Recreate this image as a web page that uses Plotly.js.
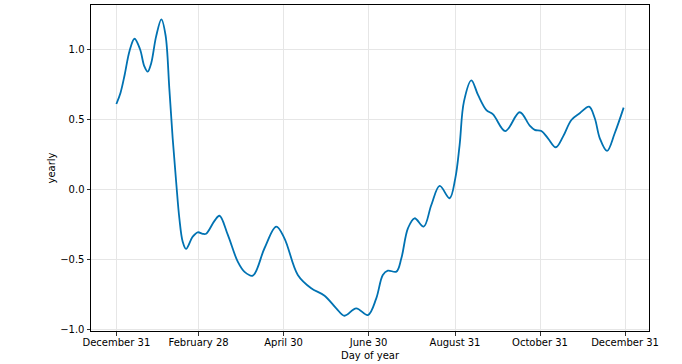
<!DOCTYPE html>
<html>
<head>
<meta charset="utf-8">
<script src="https://cdn.plot.ly/plotly-3.0.1.min.js"></script>
<style>html,body{margin:0;padding:0;background:#fff;}</style>
</head>
<body>
<div id="chart" style="width:682px;height:364px;"></div>
<script>
// Day of year (0 = Jan 1) and yearly seasonality values
const days = [0, 3, 6, 9.5, 13, 17, 20, 22.5, 25, 28.5, 32.3, 35.3, 38, 40.4, 42.9, 45.2, 47.6, 50, 54.8, 58.4, 62, 64.4, 70.4, 74,
  80, 87.1, 92, 97.9, 106.3, 114.7, 120.6, 130.2, 139.8, 149.4, 157.8, 163.7, 172.1, 180.5, 186.5, 191.2, 194.8, 200.9,
  204.5, 209.2, 214, 220.5, 226, 232, 239.1, 243.2, 246.3, 249.4, 254.7, 259.5, 265.5, 270.3, 279.1, 289.4, 296.6,
  300.2, 305, 309.7, 315.3, 320.5, 326.5, 332.5, 339.2, 343.3, 346.9, 352.1, 357.6, 364];
const yearly = [0.609, 0.69, 0.82, 0.99, 1.075, 1.0, 0.88, 0.84, 0.9, 1.09, 1.214, 1.1, 0.72, 0.364, 0.054, -0.207, -0.374, -0.426,
  -0.338, -0.307, -0.318, -0.317, -0.226, -0.189, -0.326, -0.517, -0.59, -0.617, -0.421, -0.267, -0.35, -0.612, -0.707, -0.76, -0.85,
  -0.903, -0.85, -0.898, -0.779, -0.612, -0.581, -0.588, -0.493, -0.279, -0.207, -0.267, -0.112, 0.024, -0.064, 0.078,
  0.316, 0.626, 0.778, 0.674, 0.566, 0.535, 0.416, 0.55, 0.455, 0.424, 0.416, 0.364, 0.3, 0.376, 0.495, 0.543, 0.59,
  0.507, 0.364, 0.274, 0.4, 0.583];
const xTickVals = [0, 59, 120, 181, 243, 304, 365];
const xTickText = ["December 31", "February 28", "April 30", "June 30", "August 31", "October 31", "December 31"];
const yTickVals = [-1, -0.5, 0, 0.5, 1];
const yTickText = ["\u22121.0", "\u22120.5", "0.0", "0.5", "1.0"];

const font = {family: "DejaVu Sans, sans-serif", size: 10, color: "#000"};

Plotly.newPlot("chart", [{
  x: days, y: yearly, type: "scatter", mode: "lines",
  line: {color: "#0072B2", width: 1.8, shape: "spline", smoothing: 1},
  hoverinfo: "skip"
}], {
  width: 682, height: 364,
  margin: {l: 91, r: 33, t: 5, b: 33, pad: 0},
  paper_bgcolor: "#fff", plot_bgcolor: "#fff",
  showlegend: false,
  font: font,
  xaxis: {
    range: [-18.2, 382.2], tickmode: "array", tickvals: xTickVals, ticktext: xTickText,
    showgrid: true, gridcolor: "#e6e6e6", gridwidth: 1, zeroline: false,
    showline: true, linecolor: "#000", linewidth: 1, mirror: true,
    ticks: "outside", ticklen: 3.5, tickwidth: 0.8, tickcolor: "#000",
    ticklabelstandoff: -2,
    tickfont: font,
    title: {text: "Day of year", font: font, standoff: 5}
  },
  yaxis: {
    range: [-1.012, 1.316], tickmode: "array", tickvals: yTickVals, ticktext: yTickText,
    showgrid: true, gridcolor: "#e6e6e6", gridwidth: 1, zeroline: false,
    showline: true, linecolor: "#000", linewidth: 1, mirror: true,
    ticks: "outside", ticklen: 3.5, tickwidth: 0.8, tickcolor: "#000",
    tickfont: font,
    title: {text: "yearly", font: font, standoff: 2}
  }
}, {staticPlot: true, displayModeBar: false});
</script>
</body>
</html>
